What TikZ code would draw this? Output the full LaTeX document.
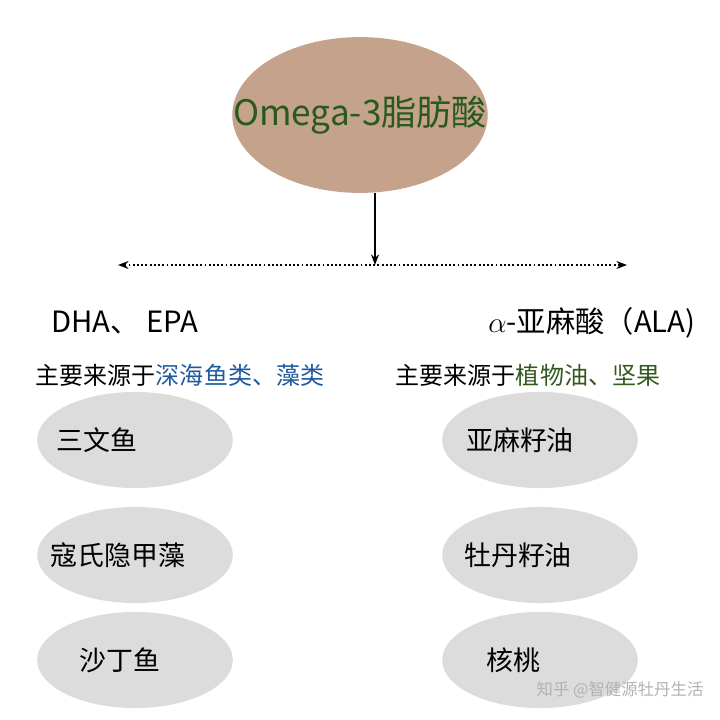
\documentclass[tikz,border=0pt]{standalone}
\usepackage{fontspec}
\setmainfont{Noto Sans CJK SC}
\usetikzlibrary{positioning,arrows.meta,shapes.geometric}
\definecolor{topfill}{RGB}{196,162,140}
\definecolor{topgreen}{RGB}{40,90,30}
\definecolor{srcblue}{RGB}{30,90,160}
\definecolor{srcgreen}{RGB}{50,90,30}
\definecolor{bubble}{RGB}{220,220,220}
\tikzset{
  bubble/.style={ellipse, fill=bubble, minimum width=167pt, minimum height=82pt, inner sep=0pt},
  food/.style={font=\fontsize{23pt}{25pt}\selectfont},
  head/.style={font=\fontsize{25pt}{27pt}\selectfont},
  src/.style={font=\fontsize{20.5pt}{22pt}\selectfont}
}
\begin{document}
\begin{tikzpicture}[x=0.03cm,y=-0.03cm]
  \useasboundingbox (0,0) rectangle (720,720);
  % top node
  \node[ellipse, fill=topfill, minimum width=218pt, minimum height=133pt, inner sep=0pt] (omega) at (360,115) {};
  \node[text=topgreen, font=\fontsize{30pt}{32pt}\selectfont] (omegatext) at (omega) {Omega-3脂肪酸};
  % split line
  \coordinate (mid) at (375,265);
  \coordinate (lft) at (118,265);
  \coordinate (rgt) at (627,265);
  \draw[line width=1.6pt,-{Stealth[length=9pt]}] (omega.south -| mid) -- (mid);
  \draw[line width=1.6pt,dotted,{Stealth[length=9pt]}-{Stealth[length=9pt]}] (lft) -- (rgt);
  % headings
  \node[head] (dha) at (125,323) {DHA、 EPA};
  \node[head] (ala) at (592,323) {$\alpha$-亚麻酸（ALA)};
  \node[src] (srcl) at (180,375) {主要来源于\textcolor{srcblue}{深海鱼类、藻类}};
  \node[src] (srcr) at (528,375) {主要来源于\textcolor{srcgreen}{植物油、坚果}};
  % foods
  \foreach \name/\x/\y/\tx/\label in {salmon/135/440/97/三文鱼, algae/135/555/118/寇氏隐甲藻,
      sardine/135/660/120/沙丁鱼, flax/540/440/520/亚麻籽油, peony/540/555/518/牡丹籽油,
      walnut/540/660/513/核桃} {
    \node[bubble] (\name) at (\x,\y) {};
    \node[food] (\name text) at (\tx,\y) {\label};
  }
  % watermark
  \node[text=gray!60, font=\fontsize{14pt}{16pt}\selectfont] (mark) at (620,690) {知乎 @智健源牡丹生活};
\end{tikzpicture}
\end{document}
